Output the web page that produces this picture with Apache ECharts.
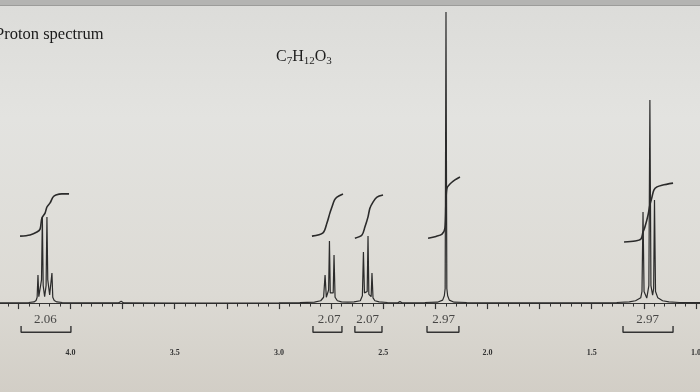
<!DOCTYPE html>
<html>
<head>
<meta charset="utf-8">
<script src="https://cdn.jsdelivr.net/npm/echarts@6/dist/echarts.min.js"></script>
<style>
html,body{margin:0;padding:0;background:#dddcd8;}
#chart{width:700px;height:392px;}
</style>
</head>
<body>
<div id="chart"></div>
<script>
// ---- data (ppm, relative intensity) ----
const spectrum = [
  [4.50,0],[4.30,0.1],[4.20,0.2],[4.175,0.4],[4.165,0.9],
  [4.160,2.0],[4.156,9.6],[4.152,2.2],[4.145,2.8],[4.139,8],[4.135,29.6],[4.131,6],[4.124,2.2],
  [4.117,6],[4.113,29.6],[4.109,8],[4.100,2.8],[4.093,2.2],[4.089,10.3],[4.085,2.0],
  [4.078,0.9],[4.065,0.4],[4.04,0.2],[3.95,0.1],[3.77,0.05],[3.757,0.6],[3.745,0.05],
  [3.5,0.0],[3.0,0.05],[2.90,0.15],[2.83,0.35],[2.80,0.8],
  [2.786,2.0],[2.779,9.6],[2.773,2.0],[2.762,4.5],[2.758,21.3],[2.754,3.5],[2.740,3.5],[2.736,16.5],[2.731,2.0],
  [2.72,0.8],[2.70,0.4],[2.67,0.3],[2.64,0.4],[2.61,0.8],
  [2.600,2.5],[2.595,17.5],[2.590,3.5],[2.577,4],[2.573,23.0],[2.569,3],[2.558,2.2],[2.554,10.3],[2.549,1.8],
  [2.54,0.8],[2.52,0.4],[2.48,0.2],[2.43,0.1],[2.420,0.5],[2.41,0.1],
  [2.30,0.2],[2.24,0.3],[2.215,1.0],[2.207,2.5],[2.203,5],[2.199,100],[2.195,5],[2.191,2.5],[2.183,1.0],[2.16,0.3],
  [2.10,0.2],[2.00,0.1],[1.993,0.5],[1.986,0.1],[1.70,0.05],[1.46,0.05],[1.451,0.5],[1.442,0.05],
  [1.38,0.2],[1.32,0.4],[1.29,0.8],[1.265,1.8],
  [1.259,4],[1.254,31.3],[1.249,4],[1.236,1.7],[1.226,6],[1.221,69.8],[1.216,6],[1.208,2.7],[1.203,5],[1.199,35.4],[1.194,4],
  [1.183,1.8],[1.16,0.8],[1.13,0.4],[1.08,0.2],[0.95,0.1],[0.75,0]
];

const integral1 = [[4.242,23.0],[4.194,23.4],[4.161,24.4],[4.146,25.4],[4.137,29.2],[4.122,30.9],[4.113,33.0],[4.098,34.4],[4.084,36.4],[4.070,37.1],[4.041,37.5],[4.007,37.5]];
const integral2 = [[2.842,23.0],[2.789,24.1],[2.770,27.5],[2.756,30.9],[2.746,33.0],[2.734,35.4],[2.722,36.4],[2.693,37.5]];
const integral3 = [[2.636,22.3],[2.602,23.4],[2.588,26.1],[2.573,29.6],[2.564,32.6],[2.549,34.7],[2.530,36.4],[2.501,37.1]];
const integral4 = [[2.285,22.3],[2.247,22.9],[2.218,23.7],[2.204,25.8],[2.199,35.4],[2.194,39.5],[2.180,40.9],[2.156,42.3],[2.132,43.3]];
const integral5 = [[1.345,21.0],[1.292,21.3],[1.264,22.0],[1.254,24.4],[1.245,26.1],[1.230,30.2],[1.221,33.7],[1.211,36.4],[1.202,38.8],[1.187,39.9],[1.163,40.5],[1.110,41.2]];

const integralValues = ['2.06','2.07','2.07','2.97','2.97'];
const bracketStart = [4.237, 2.837, 2.636, 2.290, 1.350];
const bracketEnd   = [3.998, 2.698, 2.506, 2.137, 1.110];
const labelPos     = [4.120, 2.760, 2.575, 2.210, 1.232];

const tickLabels = ['4.0','3.5','3.0','2.5','2.0','1.5','1.0'];

// ---- chart ----
const chart = echarts.init(document.getElementById('chart'));
const ink = '#2b2b2b';
const series = [];
series.push({type:'line', data:spectrum, showSymbol:false, lineStyle:{color:ink,width:1.2}, silent:true});
[integral1,integral2,integral3,integral4,integral5].forEach(d=>{
  series.push({type:'line', data:d, showSymbol:false, smooth:0.3, lineStyle:{color:ink,width:1.6}, silent:true});
});
bracketStart.forEach((s,i)=>{
  const e = bracketEnd[i];
  series.push({type:'line', data:[[s,-7.9],[s,-10],[e,-10],[e,-7.9]], showSymbol:false, lineStyle:{color:'#333',width:1.4}, silent:true});
});
series.push({type:'scatter', symbolSize:1, itemStyle:{color:'rgba(0,0,0,0)'},
  data: labelPos.map((p,i)=>[p,-5.5,integralValues[i]]),
  label:{show:true, position:'inside', formatter:p=>p.value[2], fontFamily:'Liberation Serif', fontSize:13, color:'#222'}
});

chart.setOption({
  animation:false,
  backgroundColor: new echarts.graphic.LinearGradient(0,0,0,1,[
    {offset:0,color:'#dcdcd9'},{offset:0.3,color:'#e3e3e0'},{offset:0.75,color:'#dcdad4'},{offset:1,color:'#d2cec6'}
  ]),
  graphic:[
    {type:'rect', shape:{x:0,y:0,width:700,height:5}, style:{fill:'#b4b4b2'}},
    {type:'rect', shape:{x:0,y:5,width:700,height:1}, style:{fill:'#9c9c9a'}},
    {type:'text', x:-5, y:26, style:{text:'Proton spectrum', font:'16.5px "Liberation Serif"', fill:'#1a1a1a'}}
  ],
  title:[
    {text:'{n|C}{s|7}{n|H}{s|12}{n|O}{s|3}', left:271, top:41,
     textStyle:{fontWeight:'normal', rich:{
       n:{fontFamily:'Liberation Serif', fontSize:16, fontWeight:'normal', color:'#1e1e1e', lineHeight:21},
       s:{fontFamily:'Liberation Serif', fontSize:11, fontWeight:'normal', color:'#1e1e1e', lineHeight:12, verticalAlign:'bottom'}
     }}}
  ],
  grid:{left:-33.75, right:-48.1, top:12, bottom:54, outerBoundsMode:'none', containLabel:false},
  xAxis:{
    type:'value', inverse:true, min:0.75, max:4.5, interval:0.25,
    axisLine:{lineStyle:{color:'#333',width:1.2}},
    axisTick:{inside:false, length:6, lineStyle:{color:'#333',width:1.2}},
    minorTick:{show:true, splitNumber:5, length:3.5, lineStyle:{color:'#333',width:1}},
    splitLine:{show:false},
    axisLabel:{margin:11, fontFamily:'Liberation Serif', fontSize:8, fontWeight:'bold', color:'#333',
      formatter:v=>{const s=v.toFixed(1); return (Math.abs(v*2-Math.round(v*2))<1e-6 && tickLabels.indexOf(s)>=0)? s : '';}}
  },
  yAxis:{type:'value', show:false, min:-12, max:100},
  series:series
});
</script>
</body>
</html>
